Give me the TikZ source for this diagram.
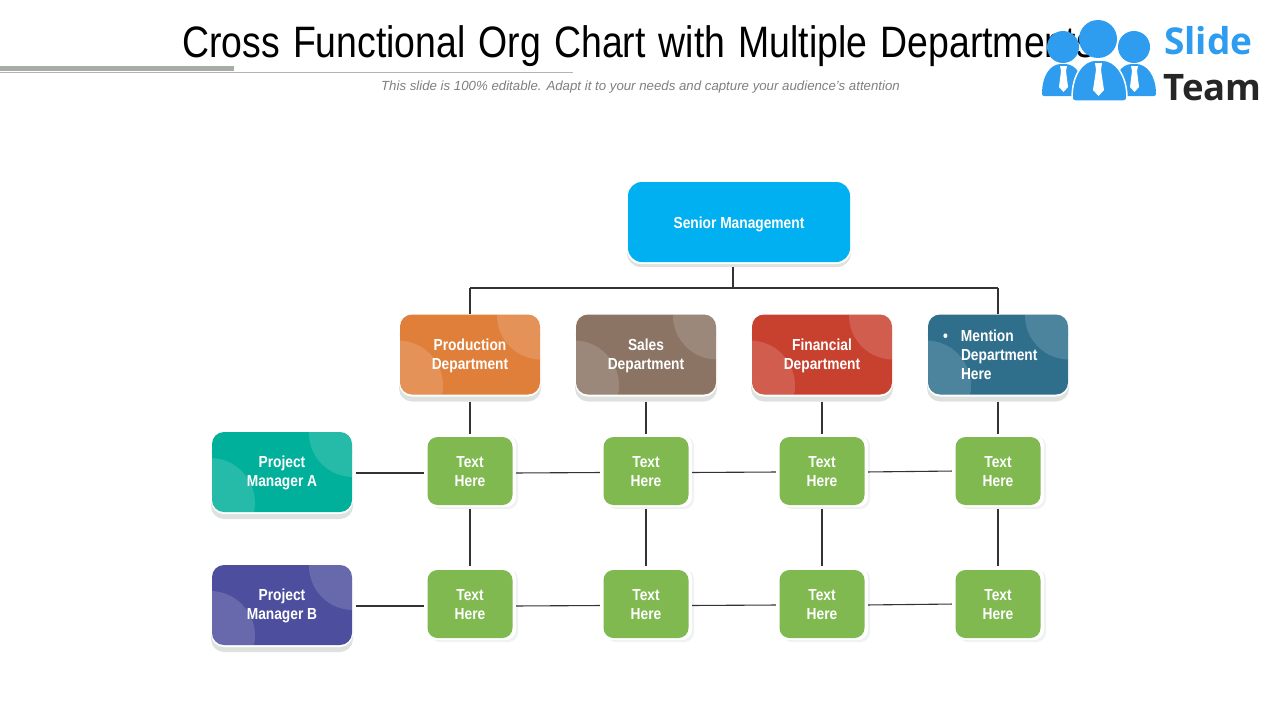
\documentclass[tikz,border=0pt]{standalone}
\usepackage{fontspec}
\setmainfont{Liberation Sans}
\newfontfamily\titlefont[FakeStretch=0.85,WordSpace=1.27]{Liberation Sans}
\newfontfamily\boxfont[FakeStretch=0.86]{Liberation Sans}
\newfontfamily\logofont{Open Sans}
\definecolor{cSenior}{HTML}{00B0F0}
\definecolor{cGreen}{HTML}{7FB950}
\definecolor{cProd}{HTML}{E07F3A}
\definecolor{cSales}{HTML}{8B7464}
\definecolor{cFin}{HTML}{C8412F}
\definecolor{cMent}{HTML}{2F6F8C}
\definecolor{cPMA}{HTML}{00B09B}
\definecolor{cPMB}{HTML}{4D4F9E}
\definecolor{cShadow}{HTML}{DDE2DF}
\definecolor{cLogo}{HTML}{2E9DF0}
\definecolor{cLine}{HTML}{333333}
\definecolor{cBar}{HTML}{A5ADA5}
\definecolor{cThin}{HTML}{B0B5B0}
\newcommand{\dn}[1]{\rule{0pt}{#1pt}}
\tikzset{
  boxlabel/.style={text=white,font=\boxfont\fontsize{16}{19}\selectfont\bfseries,align=center,inner sep=0pt,rounded corners=12pt},
  sized/.style={minimum width=140pt,minimum height=80pt},
  deco/.style={path picture={
    \fill[white,opacity=.15] ([shift={(71pt,39pt)}]path picture bounding box.center) circle[radius=44pt];
    \fill[white,opacity=.15] ([shift={(-72pt,-31pt)}]path picture bounding box.center) circle[radius=45pt];}},
  conn/.style={draw=cLine,line width=1.1pt},
  greenbox/.style={boxlabel,fill=cGreen,minimum width=85pt,minimum height=68pt,rounded corners=10pt},
}
\newcommand{\orgbox}[5]{% name, cx, cy, colour, text
  \fill[cShadow,rounded corners=13pt] (#2-71,#3-30) rectangle (#2+71,#3+47);
  \fill[white,rounded corners=13pt] (#2-71,#3-30) rectangle (#2+71,#3+42);
  \node[boxlabel,sized,deco,fill=#4] (#1) at (#2,#3) {#5};}
\newcommand{\grbox}[3]{% name, cx, cy
  \fill[cShadow!45,rounded corners=10pt] (#2-40,#3-35) rectangle (#2+48,#3+38);
  \fill[white,rounded corners=10pt] (#2-44,#3-36) rectangle (#2+46,#3+36);
  \node[greenbox] (#1) at (#2,#3) {\dn{12.5}Text\\Here};}
\begin{document}
\begin{tikzpicture}[x=1pt,y=-1pt]
\useasboundingbox (0,0) rectangle (1280,720);
\fill[white] (0,0) rectangle (1280,720);
% header
\fill[cBar] (0,66) rectangle (234,70.5);
\fill[cThin] (0,71.5) rectangle (573,73);
\node[inner sep=0pt,anchor=base west,font=\titlefont\fontsize{44}{50}\selectfont] (title) at (182,57) {Cross Functional Org Chart with Multiple Departments};
\node[inner sep=0pt,font=\itshape\fontsize{13.25}{15}\selectfont,text=gray] (sub) at (640.5,87.5) {This slide is 100\% editable. Adapt it to your needs and capture your audience's attention};
% logo
\fill[cLogo,rounded corners=2pt] (1042,96) .. controls (1042,76) and (1050,64) .. (1063,64) .. controls (1076,64) and (1084,76) .. (1084,96) -- cycle;
\fill[cLogo,rounded corners=2pt] (1113,96) .. controls (1113,76) and (1121,64) .. (1134,64) .. controls (1147,64) and (1156,76) .. (1156,96) -- cycle;
\fill[cLogo,draw=white,line width=1.5pt,rounded corners=3pt] (1072,101) .. controls (1072,76) and (1082,60) .. (1099,60) .. controls (1116,60) and (1127,76) .. (1127,101) -- cycle;
\fill[cLogo] (1063,47) circle[radius=16];
\fill[cLogo] (1134,47) circle[radius=16];
\fill[cLogo] (1098,39) circle[radius=19];
\fill[white] (1095,63) -- (1102,63) -- (1101,70) -- (1104,90) -- (1098.5,96) -- (1093,90) -- (1096,70) -- cycle;
\fill[white] (1060,66) -- (1067,66) -- (1066,71) -- (1068,87) -- (1063.5,92) -- (1059,87) -- (1061,71) -- cycle;
\fill[white] (1131,66) -- (1138,66) -- (1137,71) -- (1139,87) -- (1134.5,92) -- (1130,87) -- (1132,71) -- cycle;
\node[inner sep=0pt,anchor=base west,text=cLogo,font=\logofont\fontsize{37}{40}\selectfont\bfseries] (slide) at (1164,54) {Slide};
\node[inner sep=0pt,anchor=base west,text=black!85,font=\logofont\fontsize{36.5}{40}\selectfont\bfseries] (team) at (1163.5,100) {Team};
% senior
\fill[cShadow,rounded corners=14pt] (627,182) rectangle (851,267);
\fill[white,rounded corners=14pt] (627,182) rectangle (851,264);
\node[boxlabel,fill=cSenior,minimum width=222pt,minimum height=80pt,rounded corners=14pt] (sm) at (739,222) {\dn{15.5}Senior Management};
% departments
\orgbox{prod}{470}{354.5}{cProd}{\dn{14}Production\\Department}
\orgbox{sales}{646}{354.5}{cSales}{\dn{14}Sales\\Department}
\orgbox{fin}{822}{354.5}{cFin}{\dn{14}Financial\\Department}
\fill[cShadow,rounded corners=13pt] (927,324.5) rectangle (1069,401.5);
\fill[white,rounded corners=13pt] (927,324.5) rectangle (1069,396.5);
\node[boxlabel,sized,deco,fill=cMent,align=left,text width=140pt] (ment) at (998,354.5) {\dn{13}\hspace*{33pt}\llap{\textbullet\hspace{13pt}}Mention\\\hspace*{33pt}Department\\\hspace*{33pt}Here};
\orgbox{pma}{282}{472}{cPMA}{\dn{14}Project\\Manager A}
\orgbox{pmb}{282}{605}{cPMB}{\dn{14}Project\\Manager B}
% green
\grbox{a1}{470}{471}\grbox{a2}{646}{471}\grbox{a3}{822}{471}\grbox{a4}{998}{471}
\grbox{b1}{470}{604}\grbox{b2}{646}{604}\grbox{b3}{822}{604}\grbox{b4}{998}{604}
% connectors
\coordinate (busT) at (733,288);
\coordinate (busL) at (470,288);
\coordinate (busR) at (998,288);
\draw[conn,shorten <=5pt] (sm.south -| busT) -- (busT);
\draw[conn] (busL) -- (busR);
\draw[conn] (busL) -- (prod.north);
\draw[conn] (busR) -- (ment.north);
\foreach \d/\t in {prod/a1,sales/a2,fin/a3,ment/a4}{
  \draw[conn,shorten <=7pt,shorten >=2.5pt] (\d.south) -- (\t.north);}
\foreach \t/\b in {a1/b1,a2/b2,a3/b3,a4/b4}{
  \draw[conn,shorten <=3.5pt,shorten >=4pt] (\t.south) -- (\b.north);}
\foreach \p/\q/\u/\v in {pma/a1/-1/-2,a1/a2/-2/-1.5,a2/a3/-1.5/-1,a3/a4/-1/0,pmb/b1/-1/-2,b1/b2/-2/-1.5,b2/b3/-1.5/-1,b3/b4/-1/0}{
  \draw[conn,shorten <=3.5pt,shorten >=3.5pt] ([yshift=\u pt]\p.east) -- ([yshift=\v pt]\q.west);}
\end{tikzpicture}
\end{document}
